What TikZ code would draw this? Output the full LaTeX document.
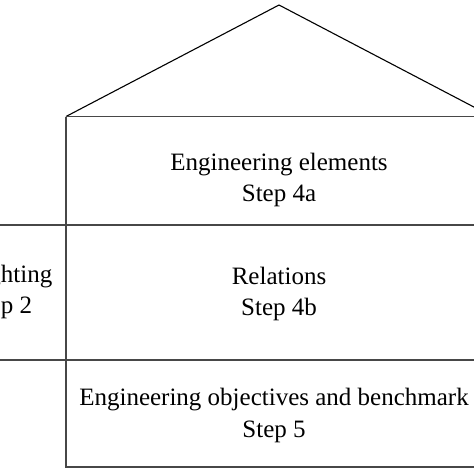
\documentclass[tikz,border=0pt]{standalone}
\usepackage{fontspec}
\setmainfont{Liberation Serif}
\begin{document}
\begin{tikzpicture}[x=1pt,y=-1pt,
  roofline/.style={draw=black,line width=1.1pt},
  gridline/.style={draw=black!72,line width=1.5pt},
  celltext/.style={align=center,inner sep=0pt,font=\fontsize{25}{31.5}\selectfont}]
\useasboundingbox (0,0) rectangle (474,474);
\clip (0,0) rectangle (474,474);
\fill[white] (0,0) rectangle (474,474);
% roof
\coordinate (roofL) at (66,116.5);
\coordinate (apex) at (279,5);
\coordinate (roofR) at (492,116.5);
\draw[roofline,line join=miter] (roofL) -- (apex) -- (roofR);
% grid
\draw[gridline] (66,116.5) -- (480,116.5);
\draw[gridline] (-5,225) -- (480,225);
\draw[gridline] (-5,360) -- (480,360);
\draw[gridline] (66,116.5) -- (66,467) -- (480,467);
% texts
\node[celltext] (elements) at (279,180) {Engineering elements\\Step 4a};
\node[celltext] (relations) at (279,294) {Relations\\Step 4b};
\node[celltext] (objectives) at (274,415.5) {Engineering objectives and benchmark\\Step 5};
\node[celltext] (weighting) at (0.5,292) {Weighting\\Step 2};
\end{tikzpicture}
\end{document}
